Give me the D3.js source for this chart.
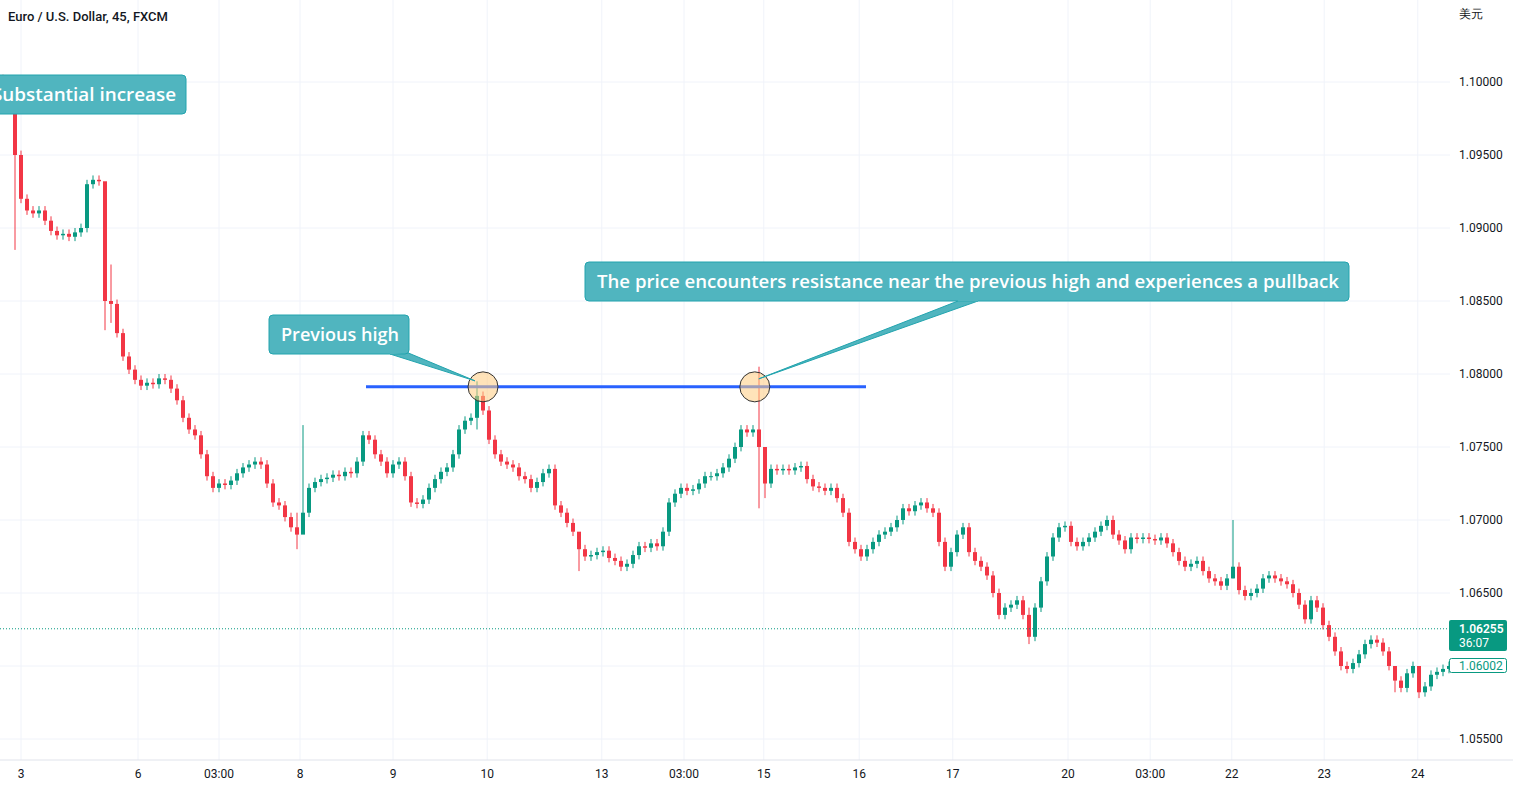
<!DOCTYPE html>
<html><head><meta charset="utf-8">
<script src="https://cdn.jsdelivr.net/npm/d3@7"></script>
<style>body{margin:0;background:#fff;overflow:hidden}svg{font-family:Roboto,"Noto Sans",sans-serif}</style>
</head><body>
<script>
// closes in pips above 1.05000, one per bar (90 min)
const closes = [500,488,450,420,412,410,412,405,398,395,396,394,397,400,430,433,432,350,348,328,
312,303,296,292,294,293,297,296,290,282,270,262,258,245,230,222,225,224,227,232,
236,238,240,238,225,212,210,202,195,190,205,222,226,228,229,231,230,233,232,240,
258,255,245,240,232,238,240,230,212,211,214,222,228,233,236,245,262,268,270,285,
275,255,245,240,238,236,230,228,222,226,232,235,210,205,198,192,180,175,176,178,
179,174,172,168,170,176,182,181,184,182,192,212,218,222,220,221,225,230,230,232,
236,242,250,262,260,262,250,225,235,234,235,234,236,237,228,223,222,220,222,215,
205,185,180,175,180,185,190,192,195,200,208,206,210,212,208,205,185,168,178,190,
195,178,172,168,162,150,135,140,142,145,135,120,140,158,175,188,195,196,185,182,
185,188,192,196,200,190,186,180,188,187,188,187,186,188,184,178,172,168,170,172,
165,160,158,155,160,168,152,148,150,153,160,162,160,158,156,150,142,132,145,140,
128,120,110,100,98,102,108,115,118,116,110,100,90,85,95,100,82,86,94,96,98,100];
const firstOpen = 503;
// notable wicks: [bar index, high, low] in pips
const wicks = [[0,505,480],[2,470,385],[17,370,330],[18,375,335],[49,205,180],[50,265,195],
[79,295,262],[96,190,165],[126,305,208],[127,250,215],[171,140,115],[205,200,160],[236,100,78],[232,98,82]];
const priceTicks = [1.100,1.095,1.090,1.085,1.080,1.075,1.070,1.065,1.060,1.055];
const dateTicks = [["3",3],["6",22.5],["03:00",36],["8",49.5],["9",65],["10",80.7],["13",99.8],["03:00",113.5],
["15",126.8],["16",142.7],["17",158.3],["20",177.5],["03:00",191.2],["22",204.8],["23",220.2],["24",235.8]];
const lastPrice = 1.06255, prevClose = 1.06002, resistance = 1.07912;
const circleBars = [80, 125.3];

const W = 1513, H = 789;
const x = d3.scaleLinear().domain([0, closes.length - 1]).range([3, 1449]);
const y = d3.scaleLinear().domain([1.055, 1.100]).range([739, 82]);
const pip = v => 1.05 + v / 10000;

const svg = d3.select("body").append("svg").attr("width", W).attr("height", H);
const wMap = new Map(wicks.map(w => [w[0], w]));
const bars = closes.map((c, i) => {
  const o = i === 0 ? firstOpen : closes[i - 1];
  const w = wMap.get(i);
  return { i, o, c, h: w ? w[1] : Math.max(o, c) + 3, l: w ? w[2] : Math.min(o, c) - 3 };
});

// grid
svg.append("g").selectAll("line").data(priceTicks).join("line")
  .attr("x1", 0).attr("x2", 1450).attr("y1", d => y(d)).attr("y2", d => y(d)).attr("stroke", "#f0f3fa");
svg.append("g").selectAll("line").data(dateTicks).join("line")
  .attr("x1", d => x(d[1])).attr("x2", d => x(d[1])).attr("y1", 0).attr("y2", 760).attr("stroke", "#f0f3fa");

// candles
const g = svg.append("g");
g.selectAll("line").data(bars).join("line")
  .attr("x1", d => x(d.i)).attr("x2", d => x(d.i))
  .attr("y1", d => y(pip(d.h))).attr("y2", d => y(pip(d.l)))
  .attr("stroke", d => d.c >= d.o ? "#089981" : "#f23645");
g.selectAll("rect").data(bars).join("rect")
  .attr("x", d => x(d.i) - 2).attr("width", 4)
  .attr("y", d => y(pip(Math.max(d.o, d.c))))
  .attr("height", d => Math.max(1, Math.abs(y(pip(d.o)) - y(pip(d.c)))))
  .attr("fill", d => d.c >= d.o ? "#089981" : "#f23645");

// last price line
svg.append("line").attr("x1", 0).attr("x2", 1450).attr("y1", y(lastPrice)).attr("y2", y(lastPrice))
  .attr("stroke", "#089981").attr("stroke-dasharray", "1,2");

// resistance line + circles
svg.append("line").attr("x1", 366).attr("x2", 866).attr("y1", y(resistance)).attr("y2", y(resistance))
  .attr("stroke", "#2962ff").attr("stroke-width", 3);
svg.selectAll(".c").data(circleBars).join("circle")
  .attr("cx", d => x(d)).attr("cy", y(resistance)).attr("r", 15)
  .attr("fill", "rgba(255,204,128,0.55)").attr("stroke", "#333").attr("stroke-width", 1);

// callouts
function callout(bx, by, bw, bh, text, tw, tip, base) {
  if (tip) svg.append("path").attr("d", `M${base[0]},${base[1]}L${tip[0]},${tip[1]}L${base[2]},${base[3]}Z`)
    .attr("fill", "#50b5bf").attr("stroke", "#22a4ae");
  svg.append("rect").attr("x", bx).attr("y", by).attr("width", bw).attr("height", bh).attr("rx", 4)
    .attr("fill", "#50b5bf").attr("stroke", "#22a4ae");
  if (tip) svg.append("path").attr("d", `M${base[0]},${base[1]-1}L${base[2]},${base[3]-1}`).attr("stroke", "#50b5bf").attr("stroke-width", 3);
  svg.append("text").attr("x", bx + bw - 10).attr("y", by + bh / 2 + 6).attr("fill", "#fff")
    .attr("text-anchor", "end").attr("textLength", tw).attr("lengthAdjust", "spacingAndGlyphs")
    .attr("font-family", "'Open Sans',sans-serif")
    .attr("font-size", 18).attr("font-weight", 600).text(text);
}
callout(-16, 75, 202, 39, "Substantial increase", 184);
callout(269, 315, 140, 39, "Previous high", 118, [x(circleBars[0]) - 8, y(resistance) - 6], [390, 354, 406, 352]);
callout(585, 262, 764, 39, "The price encounters resistance near the previous high and experiences a pullback", 742,
  [x(circleBars[1]) + 4, y(resistance) - 8], [958, 301, 978, 301]);

// axes labels
svg.append("text").attr("x", 8).attr("y", 21).attr("font-size", 13).attr("fill", "#131722").attr("font-weight", 500)
  .text("Euro / U.S. Dollar, 45, FXCM");
svg.append("text").attr("x", 1459).attr("y", 18).attr("font-size", 12).attr("fill", "#131722").text("美元");
svg.append("g").selectAll("text").data(priceTicks).join("text")
  .attr("x", 1459).attr("y", d => y(d) + 4).attr("font-size", 12).attr("fill", "#131722").text(d => d.toFixed(5));
svg.append("g").selectAll("text").data(dateTicks).join("text")
  .attr("x", d => x(d[1])).attr("y", 778).attr("text-anchor", "middle").attr("font-size", 12).attr("fill", "#131722").text(d => d[0]);
svg.append("line").attr("x1", 0).attr("x2", W).attr("y1", 760).attr("y2", 760).attr("stroke", "#e0e3eb");

// price labels
svg.append("rect").attr("x", 1449).attr("y", 620).attr("width", 58).attr("height", 31).attr("rx", 2).attr("fill", "#089981");
svg.append("text").attr("x", 1459).attr("y", 633).attr("font-size", 12).attr("fill", "#fff").attr("font-weight", 600).text(lastPrice.toFixed(5));
svg.append("text").attr("x", 1459).attr("y", 647).attr("font-size", 12).attr("fill", "#fff").text("36:07");
svg.append("rect").attr("x", 1449.5).attr("y", 658.5).attr("width", 57).attr("height", 14).attr("rx", 2)
  .attr("fill", "#fff").attr("stroke", "#089981");
svg.append("text").attr("x", 1459).attr("y", 670).attr("font-size", 12).attr("fill", "#089981").text(prevClose.toFixed(5));
</script>
</body></html>
